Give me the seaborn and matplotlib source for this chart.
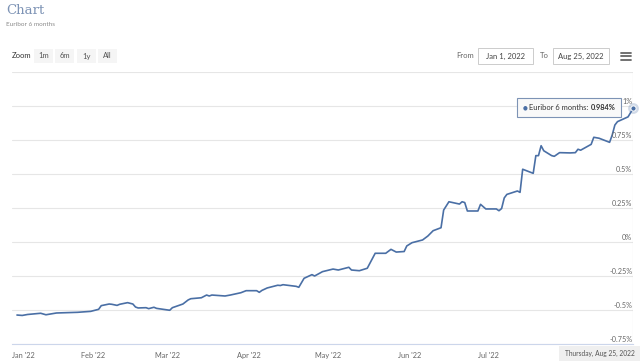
import matplotlib
matplotlib.use("Agg")
import matplotlib.pyplot as plt
import matplotlib.dates as mdates
import matplotlib.transforms as mtransforms
from matplotlib.patches import FancyBboxPatch, Rectangle
import seaborn as sns
import pandas as pd

# ---------------- data ----------------
dates = [
    "2022-01-03", "2022-01-05", "2022-01-07", "2022-01-12", "2022-01-14", "2022-01-18",
    "2022-01-26", "2022-01-31", "2022-02-02", "2022-02-03", "2022-02-04", "2022-02-07",
    "2022-02-08", "2022-02-10", "2022-02-11", "2022-02-14", "2022-02-16", "2022-02-17",
    "2022-02-18", "2022-02-21", "2022-02-22", "2022-02-24", "2022-02-25", "2022-03-02",
    "2022-03-03", "2022-03-07", "2022-03-09", "2022-03-10", "2022-03-14", "2022-03-16",
    "2022-03-17", "2022-03-18", "2022-03-23", "2022-03-25", "2022-03-29", "2022-03-31",
    "2022-04-04", "2022-04-05", "2022-04-06", "2022-04-08", "2022-04-12", "2022-04-13",
    "2022-04-14", "2022-04-19", "2022-04-20", "2022-04-22", "2022-04-25", "2022-04-26",
    "2022-04-29", "2022-05-03", "2022-05-05", "2022-05-09", "2022-05-10", "2022-05-13",
    "2022-05-16", "2022-05-19", "2022-05-23", "2022-05-25", "2022-05-27", "2022-05-30",
    "2022-05-31", "2022-06-02", "2022-06-06", "2022-06-08", "2022-06-10", "2022-06-13",
    "2022-06-14", "2022-06-16", "2022-06-20", "2022-06-21", "2022-06-22", "2022-06-23",
    "2022-06-27", "2022-06-28", "2022-06-30", "2022-07-04", "2022-07-05", "2022-07-06",
    "2022-07-07", "2022-07-08", "2022-07-12", "2022-07-13", "2022-07-14", "2022-07-18",
    "2022-07-19", "2022-07-20", "2022-07-21", "2022-07-22", "2022-07-25", "2022-07-26",
    "2022-07-28", "2022-08-01", "2022-08-03", "2022-08-04", "2022-08-05", "2022-08-09",
    "2022-08-10", "2022-08-12", "2022-08-16", "2022-08-17", "2022-08-18", "2022-08-19",
    "2022-08-23", "2022-08-25",
]
values = [
    -0.537, -0.540, -0.533, -0.524, -0.535, -0.522,
    -0.517, -0.510, -0.500, -0.495, -0.468, -0.456,
    -0.458, -0.466, -0.458, -0.446, -0.456, -0.478,
    -0.485, -0.483, -0.490, -0.480, -0.488, -0.502,
    -0.483, -0.456, -0.426, -0.417, -0.410, -0.390,
    -0.397, -0.390, -0.397, -0.390, -0.373, -0.358,
    -0.358, -0.370, -0.356, -0.338, -0.318, -0.320,
    -0.314, -0.326, -0.333, -0.267, -0.240, -0.250,
    -0.218, -0.199, -0.206, -0.186, -0.206, -0.211,
    -0.193, -0.083, -0.083, -0.054, -0.074, -0.070,
    -0.029, -0.005, 0.015, 0.044, 0.083, 0.105,
    0.235, 0.296, 0.279, 0.296, 0.290, 0.228,
    0.228, 0.277, 0.243, 0.243, 0.230, 0.246,
    0.324, 0.350, 0.375, 0.365, 0.535, 0.505,
    0.635, 0.635, 0.708, 0.671, 0.635, 0.630,
    0.657, 0.655, 0.657, 0.682, 0.675, 0.718,
    0.770, 0.763, 0.733, 0.787, 0.860, 0.885,
    0.920, 0.984,
]
series_name = "Euribor 6 months"
y_grid = [-0.75, -0.5, -0.25, 0.0, 0.25, 0.5, 0.75, 1.0, 1.25]
y_labels = ["-0.75%", "-0.5%", "-0.25%", "0%", "0.25%", "0.5%", "0.75%", "1%"]
month_ticks = ["2022-01-01", "2022-02-01", "2022-03-01", "2022-04-01",
               "2022-05-01", "2022-06-01", "2022-07-01", "2022-08-01"]
month_labels = ["Jan '22", "Feb '22", "Mar '22", "Apr '22",
                "May '22", "Jun '22", "Jul '22", "Aug '22"]
x_range = ["2022-01-01", "2022-08-25"]

df = pd.DataFrame({"date": pd.to_datetime(dates), "value": values})

# ---------------- figure ----------------
sns.set_style("white")
plt.rcParams["font.family"] = ["Lato", "DejaVu Sans"]

W, H = 640, 363
fig = plt.figure(figsize=(W / 100, H / 100), dpi=100)
ax = fig.add_axes([11.7 / W, 1 - 344 / H, (633.3 - 11.7) / W, (344 - 72) / H])

line_color = "#4a6fa5"
sns.lineplot(data=df, x="date", y="value", ax=ax, color=line_color, linewidth=1.2)

ax.set_xlim(pd.to_datetime(x_range[0]), pd.to_datetime(x_range[1]))
ax.set_ylim(y_grid[0], y_grid[-1])
ax.set_xlabel("")
ax.set_ylabel("")

# y grid
ax.set_yticks(y_grid)
ax.set_yticklabels([])
ax.tick_params(axis="y", length=0)
ax.grid(axis="y", color="#e6e6e6", linewidth=0.8)
ax.grid(axis="x", visible=False)
for s in ["top", "left", "right"]:
    ax.spines[s].set_visible(False)
ax.spines["bottom"].set_color("#ccd6eb")
ax.spines["bottom"].set_linewidth(0.8)

# y labels inside on right
ytrans = mtransforms.offset_copy(ax.get_yaxis_transform(), fig=fig, x=-1, y=1.5, units="dots")
for v, lab in zip(y_grid, y_labels):
    ax.text(1.0, v, lab, transform=ytrans, ha="right", va="bottom",
            fontsize=5.2, color="#666666")

# x ticks
ax.set_xticks(pd.to_datetime(month_ticks))
ax.set_xticklabels(month_labels)
ax.tick_params(axis="x", length=4, width=0.7, color="#ccd6eb", labelsize=5.3,
               labelcolor="#666666", pad=2)
xtl = ax.get_xticklabels()
xtl[0].set_horizontalalignment("left")
xtl[-1].set_visible(False)  # hidden under the crosshair date label in the reference

# crosshair at last point
last_date = df["date"].iloc[-1]
last_val = df["value"].iloc[-1]
ax.axvline(last_date, color="#cccccc", linewidth=0.8, zorder=1)
ax.scatter([last_date], [last_val], s=60, color=line_color, alpha=0.25,
           zorder=4, clip_on=False, linewidths=0)
ax.scatter([last_date], [last_val], s=14, color=line_color, edgecolor="white",
           linewidth=0.7, zorder=5, clip_on=False)

# ---------------- header ----------------
fig.text(6 / W, 1 - 14 / H, "Chart", fontsize=9.5, color="#7d93b5",
         family=["DejaVu Serif"], ha="left", va="baseline")
fig.text(6 / W, 1 - 26 / H, "Euribor 6 months", fontsize=4.6, color="#8a8a8a",
         ha="left", va="baseline")

fig.text(12 / W, 1 - 56 / H, "Zoom", fontsize=5.5, color="#333333", ha="left", va="center")
for lbl, x0 in zip(["1m", "6m", "1y", "All"], [34, 55, 77, 98]):
    fig.patches.append(Rectangle((x0 / W, 1 - 63 / H), 19 / W, 14 / H,
                                 transform=fig.transFigure, facecolor="#f5f5f5",
                                 edgecolor="none"))
    fig.text((x0 + 9.5) / W, 1 - 56 / H, lbl, fontsize=5.5, color="#555555",
             ha="center", va="center")

fig.text(474 / W, 1 - 56 / H, "From", fontsize=5.5, color="#666666", ha="right", va="center")
fig.patches.append(Rectangle((478 / W, 1 - 64 / H), 55 / W, 16 / H,
                             transform=fig.transFigure, facecolor="white",
                             edgecolor="#cccccc", linewidth=0.7))
fig.text(505.5 / W, 1 - 56 / H, "Jan 1, 2022", fontsize=5.5, color="#444444",
         ha="center", va="center")
fig.text(549 / W, 1 - 56 / H, "To", fontsize=5.5, color="#666666", ha="right", va="center")
fig.patches.append(Rectangle((553 / W, 1 - 64 / H), 56 / W, 16 / H,
                             transform=fig.transFigure, facecolor="white",
                             edgecolor="#cccccc", linewidth=0.7))
fig.text(581 / W, 1 - 56 / H, "Aug 25, 2022", fontsize=5.5, color="#444444",
         ha="center", va="center")
for yy in [52.5, 56, 59.5]:
    fig.lines.append(plt.Line2D([621 / W, 631 / W], [1 - yy / H, 1 - yy / H],
                                transform=fig.transFigure, color="#666666", linewidth=1.3))

# ---------------- tooltip ----------------
fig.patches.append(FancyBboxPatch((517 / W, 1 - 117 / H), 104 / W, 19 / H,
                                  boxstyle="square,pad=0", transform=fig.transFigure,
                                  facecolor="#f9f9f9", edgecolor="#7d93b5",
                                  linewidth=0.8, zorder=10))
fig.text(523 / W, 1 - 107.5 / H, "\u25CF", fontsize=4, color=line_color,
         ha="left", va="center", zorder=11, family=["DejaVu Sans"])
t1 = fig.text(529 / W, 1 - 107.5 / H, f"{series_name}:", fontsize=5.4, color="#333333",
              ha="left", va="center", zorder=11)
renderer = fig.canvas.get_renderer()
bb = t1.get_window_extent(renderer=renderer)
fig.text((bb.x1 + 3) / W, 1 - 107.5 / H, f"{last_val:.3f}%", fontsize=5.4, color="#333333",
         ha="left", va="center", weight="bold", zorder=11)

# bottom crosshair label
fig.patches.append(Rectangle((559 / W, 1 - 361 / H), 81 / W, 15 / H,
                             transform=fig.transFigure, facecolor="#efefef",
                             edgecolor="none", zorder=10))
fig.text(599.5 / W, 1 - 353.5 / H, last_date.strftime("%A, %b %d, %Y"),
         fontsize=4.8, color="#555555", ha="center", va="center", zorder=11)

fig.savefig("out.png", dpi=100)
